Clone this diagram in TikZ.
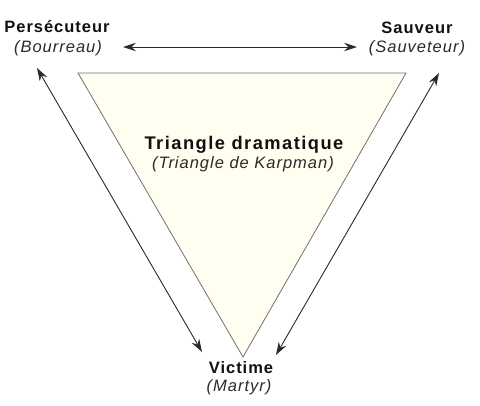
\documentclass[tikz,border=0pt]{standalone}
\usepackage{fontspec}
\setmainfont{Liberation Sans}
\usetikzlibrary{arrows.meta}
\definecolor{trifill}{HTML}{FFFEF0}
\definecolor{triedge}{HTML}{707070}
\definecolor{arrowcol}{HTML}{2A2A2A}
\definecolor{txtdark}{HTML}{111111}
\definecolor{txtital}{HTML}{2A2A2A}
\begin{document}
\begin{tikzpicture}[x=1pt,y=-1pt,
  role/.style={font=\fontsize{16.5}{16.5}\selectfont\bfseries\addfontfeature{LetterSpace=6}, inner sep=0pt, anchor=base, text=txtdark},
  alias/.style={font=\fontsize{16.5}{16.5}\selectfont\itshape\addfontfeature{LetterSpace=6}, inner sep=0pt, anchor=base, text=txtital},
  title/.style={font=\fontsize{18.3}{18.3}\selectfont\bfseries\addfontfeature{LetterSpace=8}, inner sep=0pt, anchor=base, text=txtdark},
  link/.style={draw=arrowcol, line width=0.9pt, {Stealth[length=13pt,width=8.5pt,inset=4.5pt]}-{Stealth[length=13pt,width=8.5pt,inset=4.5pt]}},
  tri/.style={draw=triedge, line width=0.8pt, fill=trifill, line join=miter},
]
\useasboundingbox (0,0) rectangle (480,405);
% triangle corners
\coordinate (TL) at (78,73);
\coordinate (TR) at (406,73);
\coordinate (BT) at (243,357);
\path[tri] (TL) -- (TR) -- (BT) -- cycle;
% labels
\node[role]  (pers)  at (57,32)   {Persécuteur};
\node[alias] (bour)  at (58,52)   {(Bourreau)};
\node[role]  (sauv)  at (417,33)  {Sauveur};
\node[alias] (sauvt) at (417,52)  {(Sauveteur)};
\node[role]  (vict)  at (241,373) {Victime};
\node[alias] (mart)  at (239,391) {(Martyr)};
\node[title] (tdram) at (244,149) {Triangle dramatique};
\node[alias] (tkarp) at (243,168) {(Triangle de Karpman)};
% arrow ends
\coordinate (h1) at (123,47);
\coordinate (h2) at (357,47);
\coordinate (l1) at (37,68);
\coordinate (l2) at (202,352);
\coordinate (r1) at (439,73);
\coordinate (r2) at (276,355);
\draw[link] (h1) -- (h2);
\draw[link] (l1) -- (l2);
\draw[link] (r1) -- (r2);
\end{tikzpicture}
\end{document}
